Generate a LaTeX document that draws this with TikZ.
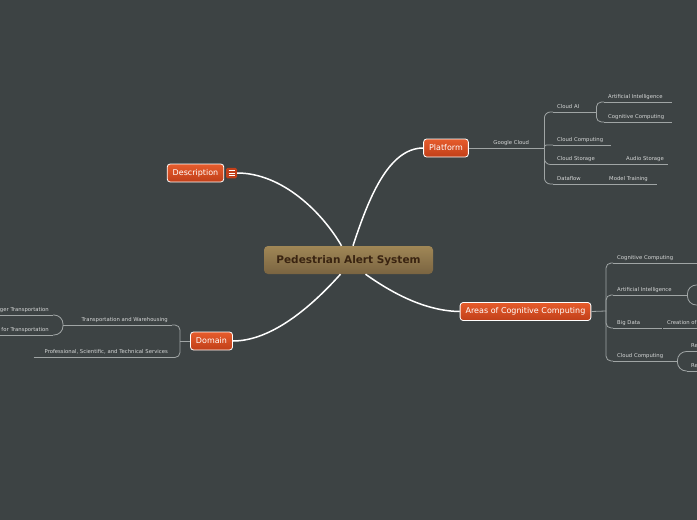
\documentclass[tikz,border=0pt]{standalone}
\usepackage{fontspec}
\setmainfont{DejaVu Sans}
\usetikzlibrary{positioning}

\definecolor{bgcol}{HTML}{3D4344}
\definecolor{topictop}{HTML}{E65C2C}
\definecolor{topicbot}{HTML}{C13F19}
\definecolor{centtop}{HTML}{A08756}
\definecolor{centbot}{HTML}{7A6441}
\definecolor{centtext}{HTML}{3A2411}
\definecolor{sublinecol}{HTML}{A0A5A5}
\definecolor{subtext}{HTML}{D6D8D8}

\tikzset{
  central/.style={rounded corners=4pt, top color=centtop, bottom color=centbot, text=centtext,
    font=\fontsize{10.5}{12}\selectfont\bfseries, minimum width=169pt, minimum height=28pt, inner sep=0pt,
    text height=7.6pt, text depth=1pt},
  topic/.style={rounded corners=3pt, draw=white, line width=0.8pt, top color=topictop, bottom color=topicbot,
    text=white, font=\fontsize{8}{9}\selectfont, minimum height=18pt, inner xsep=5.5pt, inner ysep=0pt,
    text height=5.8pt, text depth=1pt},
  noteicon/.style={fill=topicbot, rounded corners=1.5pt, minimum width=11pt, minimum height=10.5pt, inner sep=0pt,
    path picture={\foreach \dy in {-2.3,0,2.3}
      \draw[white, line width=0.5pt] ([xshift=-3pt,yshift=\dy pt]path picture bounding box.center) -- ++(6pt,0);}},
  leaf/.style={text=subtext, font=\fontsize{5.3}{6}\selectfont, inner xsep=4pt, inner ysep=3.6pt,
    text height=3.8pt, text depth=0pt, text width=#1},
  leafr/.style={leaf=#1, anchor=south west, align=left},
  leafl/.style={leaf=#1, anchor=south east, align=right},
  leafc/.style={leaf=#1, anchor=south west, align=center},
  mainline/.style={draw=white, line width=1.5pt},
  subline/.style={draw=sublinecol, line width=0.8pt},
}

\begin{document}
\begin{tikzpicture}[x=1pt, y=-1pt]
    \path[use as bounding box] (0,0) rectangle (697,520);
    \clip (0,0) rectangle (697,520);
    \fill[bgcol] (0,0) rectangle (697,520);

    % Main topics
    \node [central] (cen)      at (348.5,260) {Pedestrian Alert System};
    \node [topic]   (desc)     at (195.5,173) {Description};
    \node [noteicon] (descicon) at (231.5,173) {};
    \node [topic]   (platform) at (446,148)   {Platform};
    \node [topic]   (areas)    at (525.5,311.5) {Areas of Cognitive Computing};
    \node [topic]   (domain)   at (211.5,341) {Domain};

    % Platform subtopics
    \node [leafc=58pt] (gc)      at (478,148)   {Google Cloud};
    \node [leafr=35pt] (cloudai) at (553,112)   {Cloud AI};
    \node [leafr=60pt] (ai1)     at (604,102)   {Artificial Intelligence};
    \node [leafr=60pt] (cc1)     at (604,122)   {Cognitive Computing};
    \node [leafr=50pt] (ccomp)   at (553,145)   {Cloud Computing};
    \node [leafr=44pt] (cstor)   at (553,164.5) {Cloud Storage};
    \node [leafl=55pt] (audio)   at (668,164.5) {Audio Storage};
    \node [leafr=44pt] (dflow)   at (553,184)   {Dataflow};
    \node [leafr=44pt] (mtrain)  at (605,184)   {Model Training};

    % Areas subtopics
    \coordinate (areasj) at (606,311);
    \node [leafr=99pt] (ac1)   at (613,263) {Cognitive Computing};
    \node [leafr=66pt] (aai)   at (613,295) {Artificial Intelligence};
    \node [leafr=41pt] (bigd)  at (613,328) {Big Data};
    \node [leafr=70pt] (creat) at (663,328) {Creation of};
    \node [leafr=56pt] (acc)   at (613,361) {Cloud Computing};
    \node [leafr=45pt] (re1)   at (687,351.5) {Re};
    \node [leafr=45pt] (re2)   at (687,371) {Re};
    \coordinate (aiup)  at (697,285);
    \coordinate (aiupe) at (720,285);
    \coordinate (aidn)  at (697,305);
    \coordinate (aidne) at (720,305);

    % Domain subtopics
    \coordinate (domj) at (180,341);
    \node [leafl=91pt]  (tw)   at (172,325)   {Transportation and Warehousing};
    \node [leafl=130pt] (prof) at (172,357.5) {Professional, Scientific, and Technical Services};
    \coordinate (twj) at (63,325);
    \node [leafl=92pt]  (pass) at (53,315) {Passenger Transportation};
    \node [leafl=122pt] (supp) at (53,335) {Support Activities for Transportation};

    % Main connectors
    \draw [mainline] ([xshift=-7pt]cen.north) .. controls (322,212) and (282,173) .. (descicon.east);
    \draw [mainline] ([xshift=4.5pt]cen.north) .. controls (368,200) and (388,148) .. (platform.west);
    \draw [mainline] ([xshift=17pt]cen.south) .. controls (392,293) and (425,311) .. (areas.west);
    \draw [mainline] ([xshift=-8pt]cen.south) .. controls (312,306) and (272,341) .. (domain.east);

    % Underlines
    \foreach \n in {gc,cloudai,ai1,cc1,ccomp,cstor,audio,dflow,mtrain,ac1,aai,bigd,creat,acc,re1,re2,tw,prof,pass,supp}
      \draw [subline] (\n.south west) -- (\n.south east);

    % Branch connectors
    \draw [subline] (platform.east) -- (gc.south west);
    \draw [subline, rounded corners=6pt] (gc.south east) |- (cloudai.south west);
    \draw [subline, rounded corners=2pt] (gc.south east) |- (ccomp.south west);
    \draw [subline, rounded corners=6pt] (gc.south east) |- (cstor.south west);
    \draw [subline, rounded corners=6pt] (gc.south east) |- (dflow.south west);
    \draw [subline, rounded corners=5pt] (cloudai.south east) |- (ai1.south west);
    \draw [subline, rounded corners=5pt] (cloudai.south east) |- (cc1.south west);

    \draw [subline] (areas.east) -- (areasj);
    \draw [subline, rounded corners=5pt] (areasj) |- (ac1.south west);
    \draw [subline, rounded corners=5pt] (areasj) |- (aai.south west);
    \draw [subline, rounded corners=5pt] (areasj) |- (bigd.south west);
    \draw [subline, rounded corners=5pt] (areasj) |- (acc.south west);
    \draw [subline, rounded corners=9pt] (aai.south east) |- (aiup);
    \draw [subline, rounded corners=9pt] (aai.south east) |- (aidn);
    \draw [subline] (aiup) -- (aiupe);
    \draw [subline] (aidn) -- (aidne);
    \draw [subline, rounded corners=9pt] (acc.south east) |- (re1.south west);
    \draw [subline, rounded corners=9pt] (acc.south east) |- (re2.south west);

    \draw [subline] (domain.west) -- (domj);
    \draw [subline, rounded corners=5pt] (domj) |- (tw.south east);
    \draw [subline, rounded corners=5pt] (domj) |- (prof.south east);
    \draw [subline] (tw.south west) -- (twj);
    \draw [subline, rounded corners=9pt] (twj) |- (pass.south east);
    \draw [subline, rounded corners=9pt] (twj) |- (supp.south east);
\end{tikzpicture}
\end{document}
